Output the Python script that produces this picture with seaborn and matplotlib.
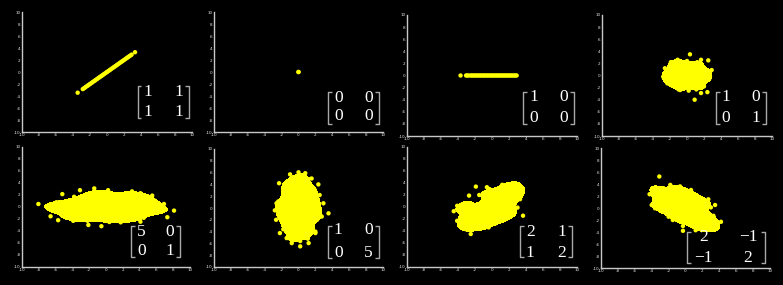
import matplotlib
matplotlib.use("Agg")
import matplotlib.pyplot as plt
from matplotlib.colors import ListedColormap
import seaborn as sns
import pandas as pd

# ---------------- data ----------------
matrices = [["1", "1", "1", "1"], ["0", "0", "0", "0"], ["1", "0", "0", "0"], ["1", "0", "0", "1"],
            ["5", "0", "0", "1"], ["1", "0", "0", "5"], ["2", "1", "1", "2"], ["2", "\u22121", "\u22121", "2"]]

p1_x = [-3.45, -2.85, -2.72, -2.6, -2.47, -2.31, -2.2, -2.05, -1.93, -1.78, -1.66, -1.5, -1.38,
        -1.22, -1.1, -0.95, -0.82, -0.68, -0.55, -0.4, -0.27, -0.12, 0.0, 0.14, 0.28, 0.41,
        0.56, 0.7, 0.83, 0.97, 1.12, 1.25, 1.4, 1.53, 1.68, 1.82, 1.96, 2.1, 2.24, 2.37,
        2.5, 2.63, 2.78, 2.9, 3.3]
p1_y = [-3.45, -2.85, -2.72, -2.6, -2.47, -2.31, -2.2, -2.05, -1.93, -1.78, -1.66, -1.5, -1.38,
        -1.22, -1.1, -0.95, -0.82, -0.68, -0.55, -0.4, -0.27, -0.12, 0.0, 0.14, 0.28, 0.41,
        0.56, 0.7, 0.83, 0.97, 1.12, 1.25, 1.4, 1.53, 1.68, 1.82, 1.96, 2.1, 2.24, 2.37,
        2.5, 2.63, 2.78, 2.9, 3.3]

p2_x = [0.0, 0.0]
p2_y = [0.0, 0.0]

p3_x = [-3.7, -3.05, -2.9, -2.75, -2.5, -2.38, -2.2, -2.05, -1.9, -1.72, -1.58, -1.41, -1.27,
        -1.1, -0.96, -0.8, -0.64, -0.5, -0.33, -0.18, -0.03, 0.12, 0.27, 0.43, 0.58, 0.74,
        0.88, 1.05, 1.2, 1.36, 1.5, 1.66, 1.81, 1.97, 2.12, 2.28, 2.43, 2.6, 2.75, 2.9]
p3_y = [0.0] * 40

p4_x = [0.0, 0.5, -0.6, 1.0, -1.2, 0.3, -0.4, 1.5, -1.6, 0.8, -0.9, 1.8, -1.9, 0.1, 0.2, 1.3,
        -1.4, 1.6, -1.5, 2.1, -2.2, 0.6, -0.2, 0.9, -1.0, 0.4, -0.5,
        2.3, 2.2, 1.9, 1.2, 0.0, -0.9, -1.7, -2.4, -2.3, -1.8, -1.0, 0.2, 1.1, 2.0, 2.6, -2.8,
        -1.9, -1.1, 0.35, 1.65, 2.5, 2.9, 2.4, 1.65, 0.9, -0.8, -2.3, -2.6, -2.0, 2.7]
p4_y = [0.0, 0.3, 0.4, -0.5, -0.8, 1.2, -1.3, 0.8, 0.6, -1.4, 1.5, -0.2, -0.3, -1.9, 2.0, 1.6,
        -1.6, -1.5, 1.7, 0.5, 0.2, 0.9, 0.6, 0.1, -0.2, -0.7, -0.5,
        0.3, -0.9, 1.4, 2.2, 2.4, 2.2, 1.7, 0.5, -0.6, -1.6, -2.3, -2.5, -2.3, -1.8, -0.6, -0.2,
        2.2, 2.6, 3.5, 2.6, 2.5, 0.9, -2.75, -2.9, -4.0, -2.4, -1.3, 1.2, -0.55, -0.15]

p5_x = [0.0, 1.5, -1.5, 3.0, -3.0, 2.0, -2.0, 0.5, -0.5, 4.0, -4.0, 3.5, -3.5, 1.0, -1.0, 4.5,
        -4.6, 2.5, -2.5, 0.8, -0.8, 2.2, -2.2, 3.2, -3.2, 5.0, -5.0, 1.2, -1.3, 0.0, 0.0,
        5.2, 4.9, 4.3, 2.7, 0.0, -2.0, -3.8, -5.4, -5.2, -4.0, -2.2, 0.4, 2.5, 4.5, 5.8, -6.3,
        -8.05, -6.6, -6.6, -5.7, -5.9, -5.2, -3.1, -1.4, 0.25, 3.1, 4.1, 5.8, 6.9, 8.1, 7.3,
        4.1, 1.75, -0.55, -2.1, -3.9, 6.5, 5.5]
p5_y = [0.0, 0.5, -0.5, 0.3, 0.2, -1.0, 1.0, 1.5, -1.5, -0.8, -0.6, 1.2, 1.1, -1.7, 1.7, 0.5,
        0.4, 1.6, -1.6, 0.4, -0.2, 0.0, 0.0, -1.5, -1.3, -0.3, -0.5, -0.3, 0.6, -1.0, 1.0,
        0.3, -0.9, 1.4, 2.2, 2.4, 2.2, 1.7, 0.5, -0.6, -1.6, -2.3, -2.5, -2.3, -1.8, -0.6, -0.2,
        0.5, -0.2, -1.55, -2.2, 0.8, 2.15, 2.8, 3.1, 2.8, 2.6, 2.3, 1.05, 0.5, -0.6, -1.7,
        -2.45, -2.55, -3.2, -3.0, -2.3, -0.45, 1.9]

p6_x = [0.0, 0.5, -0.5, 1.0, -1.0, 1.5, -1.5, 0.3, -0.3, 1.8, -1.8, 1.2, -1.2, 0.7, -0.7, 2.0,
        -2.0, 0.2, -0.2, 1.0, -1.0, 1.5, -1.5, 0.6, -0.6, 2.1, -2.1,
        0.4, -0.4, 0.9, -0.9, 0.2, -0.3, 1.3, -1.3, 0.6, -0.6, 1.4, -1.4, 0.0, 0.0, -0.5, 0.3,
        -0.7, 0.8, -0.1, 0.1,
        2.3, 2.2, 1.9, 1.2, 0.0, -0.9, -1.7, -2.4, -2.3, -1.8, -1.0, 0.2, 1.1, 2.0, 2.6, -2.8,
        -1.0, 0.0, 0.8, 1.55, 2.35, -2.3, -2.6, -2.65, -2.2, -0.8, 0.2, 1.2, 2.0, 2.75, 3.55,
        2.95, 2.5, -1.8, -1.4]
p6_y = [0.0, 2.0, -2.0, 0.5, -0.5, 3.0, -3.0, 4.0, -4.0, -1.0, 1.0, -2.8, 2.8, -4.5, 4.5, 1.5,
        -1.5, 1.0, -1.0, 2.5, -2.5, -3.8, 3.8, 5.0, -5.0, -0.3, 0.3,
        -1.2, 1.3, -0.2, 0.1, 3.0, -3.2, 1.9, -1.9, -2.6, 2.4, -1.0, 0.9, -0.8, 2.0, 1.6, -1.5,
        -1.4, 1.4, 3.4, -3.6,
        0.7, -2.0, 3.1, 4.9, 5.4, 4.9, 3.8, 1.1, -1.3, -3.6, -5.2, -5.6, -5.2, -4.0, -1.3, -0.4,
        5.7, 6.05, 5.9, 5.0, 4.0, 4.2, 0.8, -2.0, -4.25, -5.95, -6.5, -5.95, -4.25, -1.45, -0.9,
        0.8, 2.2, 3.1, -5.1]

p7_x = [0.0, 1.0, -1.0, 2.0, -2.0, 2.5, -2.5, 1.0, -1.0, 1.5, -1.5, 0.5, -0.5, 3.0, -3.0, 2.0,
        -2.0, 0.0, 0.0, 1.8, -1.8, 3.3, -3.3, 0.8, -0.8, -3.2, 2.2, -1.0, 1.2,
        3.0, 2.1, 3.3, 3.0, 1.7, 0.45, -0.9, -2.6, -3.2, -3.3, -2.85, -1.5, -0.3, 1.2, 2.8, -3.6,
        -4.5, -4.1, -3.6, -4.1, -3.1, -2.5, -1.4, -0.4, 1.6, 2.55, 3.65, 3.4, 2.75, 1.6, -0.6,
        -1.9, -2.7]
p7_y = [0.0, 1.0, -1.0, 1.5, -1.5, 2.5, -2.2, -0.5, 0.5, 0.0, 0.0, 1.5, -1.5, 1.5, -1.2, 2.8,
        -2.8, 1.8, -1.8, 0.5, -0.5, 2.7, -2.5, 2.5, -2.6, 0.0, -0.8, 1.8, -1.8,
        2.6, 3.3, 1.3, -0.1, -1.7, -2.7, -3.3, -3.3, -2.4, -1.1, 0.4, 2.0, 3.0, 3.7, 3.6, -3.3,
        -0.7, 0.2, 0.35, -2.3, -3.7, -4.5, -3.4, -3.4, -2.0, -1.2, -1.45, 2.45, 3.85, 3.6, 3.3,
        3.4, 1.9]

p8_x = [0.0, 1.0, -1.0, 2.0, -2.0, 2.5, -2.5, 1.0, -1.0, 1.5, -1.5, 0.5, -0.5, 3.0, -3.0, 2.0,
        -2.0, 0.0, 0.0, 1.8, -1.8, 3.3, -3.3, 0.8, -0.8, -3.2, 2.2, -1.0, 1.2,
        3.0, 2.1, 3.3, 3.0, 1.7, 0.45, -0.9, -2.6, -3.2, -3.3, -2.85, -1.5, -0.3, 1.2, 2.8, -3.6,
        -4.25, -3.8, -3.1, -1.8, -0.65, 0.65, 2.7, 3.5, 4.2, 3.7, 2.7, 1.55, -0.3, -2.0, -3.6,
        -4.0]
p8_y = [0.0, -1.0, 1.0, -1.5, 1.5, -2.5, 2.2, 0.5, -0.5, 0.0, 0.0, -1.5, 1.5, -1.5, 1.2, -2.8,
        2.8, 1.8, -1.8, -0.5, 0.5, -2.7, 2.5, -2.5, 2.6, 0.2, 0.8, -1.8, 1.8,
        -2.6, -3.3, -1.3, 0.1, 1.7, 2.7, 3.3, 3.3, 2.4, 1.1, -0.4, -2.0, -3.0, -3.7, -3.6, 3.3,
        2.3, 3.3, 5.25, 3.85, 3.6, 3.0, 1.45, 0.5, -2.3, -3.25, -3.0, -3.4, -3.8, -1.45, -0.05,
        0.5]

xs = [p1_x, p2_x, p3_x, p4_x, p5_x, p6_x, p7_x, p8_x]
ys = [p1_y, p2_y, p3_y, p4_y, p5_y, p6_y, p7_y, p8_y]
has_area = [False, False, False, True, True, True, True, True]

ticks = [-10, -8, -6, -4, -2, 0, 2, 4, 6, 8, 10]
tick_labels = ["-10", "-8", "-6", "-4", "-2", "0", "2", "4", "6", "8", "10"]

# ---------------- layout / style ----------------
W, H = 783, 285
# (left, top, right, bottom) in pixels
boxes = [(22, 12, 192, 132), (214, 12, 383, 132), (407, 15, 577, 136), (602, 15, 772, 136),
         (22, 147, 190, 267), (214, 149, 383, 267), (407, 147, 577, 267), (601, 148, 770, 268)]
# bracket left, bracket right, bracket bottom, bracket top, row1 y, row2 y, col1 x, col2 x
mat_layout = [(0.68, 0.98, 0.117, 0.383, 0.333, 0.167, 0.74, 0.92),
              (0.676, 0.975, 0.067, 0.33, 0.286, 0.13, 0.735, 0.915),
              (0.684, 0.98, 0.10, 0.366, 0.325, 0.146, 0.745, 0.92),
              (0.67, 0.965, 0.10, 0.366, 0.325, 0.146, 0.73, 0.905),
              (0.65, 0.94, 0.08, 0.34, 0.295, 0.13, 0.71, 0.88),
              (0.676, 0.975, 0.08, 0.35, 0.31, 0.12, 0.735, 0.915),
              (0.665, 0.97, 0.08, 0.34, 0.295, 0.12, 0.725, 0.91),
              (0.51, 0.97, 0.04, 0.30, 0.26, 0.083, 0.605, 0.87)]

sns.set_theme(style="dark")
plt.rcParams["font.family"] = ["DejaVu Sans"]

fig = plt.figure(figsize=(W / 100, H / 100), dpi=100, facecolor="black")
yellow = "#ffff00"
spine_col = "#c8c8c8"
br_col = "#a8a8a8"

for i in range(8):
    l, t, r, b = boxes[i]
    ax = fig.add_axes([l / W, 1 - b / H, (r - l) / W, (b - t) / H])
    ax.set_facecolor("black")
    df = pd.DataFrame({"x": xs[i], "y": ys[i]})
    if has_area[i]:
        sns.kdeplot(data=df, x="x", y="y", fill=True, levels=[0.32, 1.0],
                    cmap=ListedColormap([yellow]), bw_adjust=0.75, ax=ax, zorder=2)
    sns.scatterplot(data=df, x="x", y="y", color=yellow, s=10, marker="o",
                    edgecolor="none", linewidth=0, ax=ax, zorder=3)
    ax.set_xlim(-10, 10)
    ax.set_ylim(-10, 10)
    ax.set_xticks(ticks)
    ax.set_xticklabels(tick_labels)
    ax.set_yticks(ticks)
    ax.set_yticklabels(tick_labels)
    ax.set_xlabel("")
    ax.set_ylabel("")
    ax.grid(False)
    for side in ["top", "right"]:
        ax.spines[side].set_visible(False)
    for side in ["left", "bottom"]:
        ax.spines[side].set_visible(True)
        ax.spines[side].set_color(spine_col)
        ax.spines[side].set_linewidth(1.0)
    ax.tick_params(axis="both", which="both", direction="in", length=1.5, width=0.7,
                   color=spine_col, labelcolor="#e8e8e8", labelsize=3, pad=1)

    bl, brr, yb, yt, r1, r2, c1, c2 = mat_layout[i]
    m = matrices[i]
    fk = dict(transform=ax.transAxes, color="white", fontsize=12.5,
              family="Liberation Serif", ha="center", va="center", zorder=5)
    ax.text(c1, r1, m[0], **fk)
    ax.text(c2, r1, m[1], **fk)
    ax.text(c1, r2, m[2], **fk)
    ax.text(c2, r2, m[3], **fk)
    serif = 0.022
    lk = dict(transform=ax.transAxes, color=br_col, lw=1.0, clip_on=False, zorder=5,
              solid_capstyle="butt")
    ax.plot([bl + serif, bl, bl, bl + serif], [yt, yt, yb, yb], **lk)
    ax.plot([brr - serif, brr, brr, brr - serif], [yt, yt, yb, yb], **lk)

fig.savefig("out.png", dpi=100, facecolor="black")
